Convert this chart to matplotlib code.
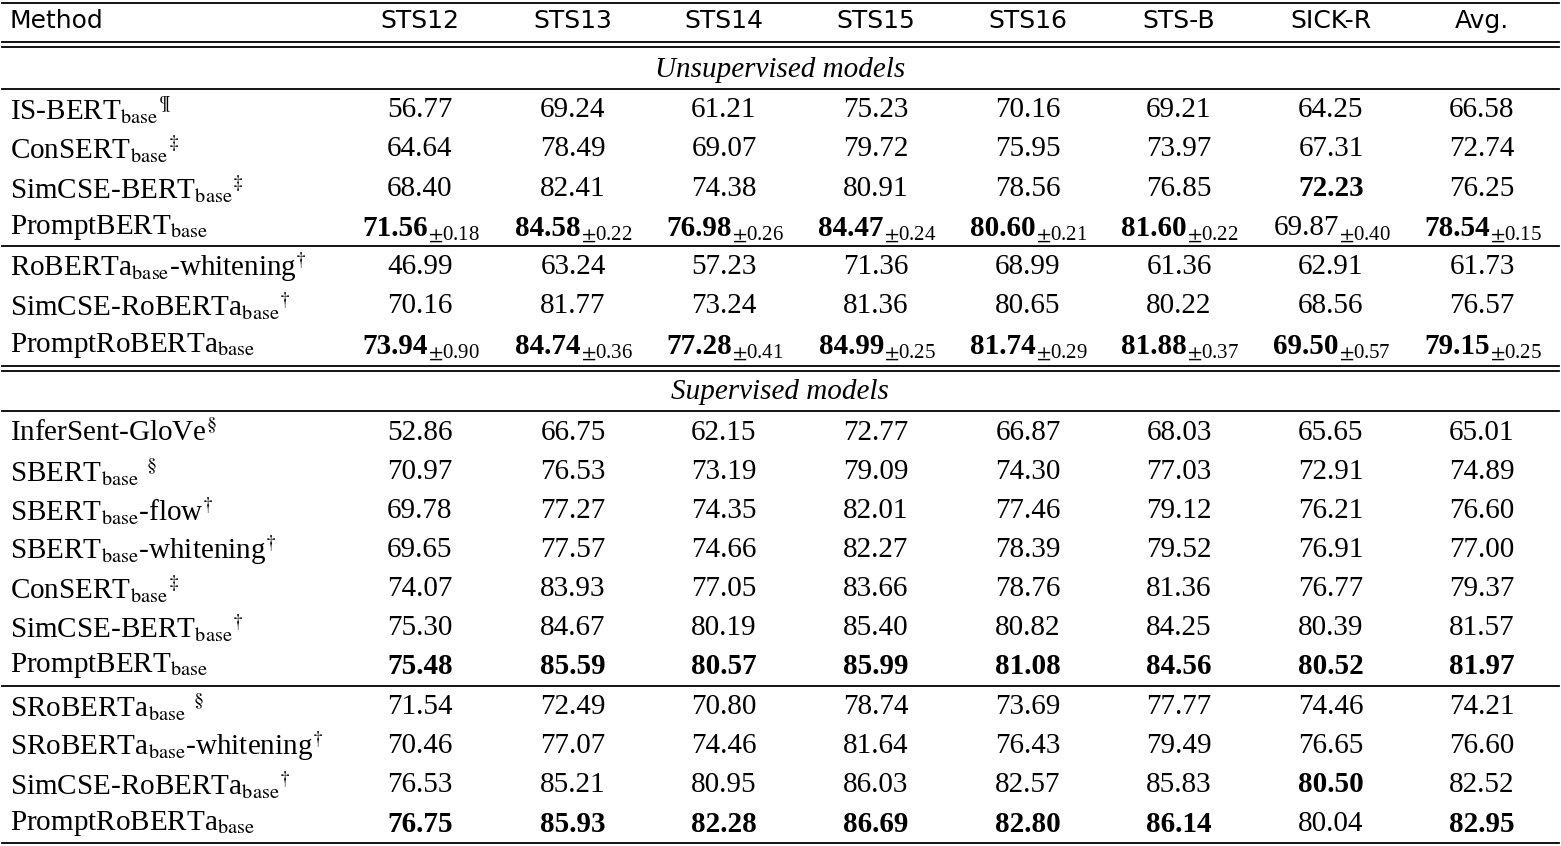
import matplotlib.pyplot as plt

plt.rcParams['font.family'] = ['Liberation Serif', 'DejaVu Serif']
plt.rcParams['mathtext.fontset'] = 'stix'

columns = ["STS12", "STS13", "STS14", "STS15", "STS16", "STS-B", "SICK-R", "Avg."]

unsup_names = [r"IS-BERT$_{\mathrm{base}}$$^{¶}$", r"ConSERT$_{\mathrm{base}}$$^{‡}$",
               r"SimCSE-BERT$_{\mathrm{base}}$$^{‡}$", r"PromptBERT$_{\mathrm{base}}$",
               r"RoBERTa$_{\mathrm{base}}$-whitening$^{†}$", r"SimCSE-RoBERTa$_{\mathrm{base}}$$^{†}$",
               r"PromptRoBERTa$_{\mathrm{base}}$"]
unsup_vals = [
    [56.77, 69.24, 61.21, 75.23, 70.16, 69.21, 64.25, 66.58],
    [64.64, 78.49, 69.07, 79.72, 75.95, 73.97, 67.31, 72.74],
    [68.40, 82.41, 74.38, 80.91, 78.56, 76.85, 72.23, 76.25],
    [71.56, 84.58, 76.98, 84.47, 80.60, 81.60, 69.87, 78.54],
    [46.99, 63.24, 57.23, 71.36, 68.99, 61.36, 62.91, 61.73],
    [70.16, 81.77, 73.24, 81.36, 80.65, 80.22, 68.56, 76.57],
    [73.94, 84.74, 77.28, 84.99, 81.74, 81.88, 69.50, 79.15],
]
unsup_std = {3: [0.18, 0.22, 0.26, 0.24, 0.21, 0.22, 0.40, 0.15],
             6: [0.90, 0.36, 0.41, 0.25, 0.29, 0.37, 0.57, 0.25]}
unsup_bold = {(2, 6)} | {(3, j) for j in range(8) if j != 6} | {(6, j) for j in range(8)}

sup_names = [r"InferSent-GloVe$^{§}$", r"SBERT$_{\mathrm{base}}$ $^{§}$",
             r"SBERT$_{\mathrm{base}}$-flow$^{†}$", r"SBERT$_{\mathrm{base}}$-whitening$^{†}$",
             r"ConSERT$_{\mathrm{base}}$$^{‡}$", r"SimCSE-BERT$_{\mathrm{base}}$$^{†}$",
             r"PromptBERT$_{\mathrm{base}}$", r"SRoBERTa$_{\mathrm{base}}$ $^{§}$",
             r"SRoBERTa$_{\mathrm{base}}$-whitening$^{†}$", r"SimCSE-RoBERTa$_{\mathrm{base}}$$^{†}$",
             r"PromptRoBERTa$_{\mathrm{base}}$"]
sup_vals = [
    [52.86, 66.75, 62.15, 72.77, 66.87, 68.03, 65.65, 65.01],
    [70.97, 76.53, 73.19, 79.09, 74.30, 77.03, 72.91, 74.89],
    [69.78, 77.27, 74.35, 82.01, 77.46, 79.12, 76.21, 76.60],
    [69.65, 77.57, 74.66, 82.27, 78.39, 79.52, 76.91, 77.00],
    [74.07, 83.93, 77.05, 83.66, 78.76, 81.36, 76.77, 79.37],
    [75.30, 84.67, 80.19, 85.40, 80.82, 84.25, 80.39, 81.57],
    [75.48, 85.59, 80.57, 85.99, 81.08, 84.56, 80.52, 81.97],
    [71.54, 72.49, 70.80, 78.74, 73.69, 77.77, 74.46, 74.21],
    [70.46, 77.07, 74.46, 81.64, 76.43, 79.49, 76.65, 76.60],
    [76.53, 85.21, 80.95, 86.03, 82.57, 85.83, 80.50, 82.52],
    [76.75, 85.93, 82.28, 86.69, 82.80, 86.14, 80.04, 82.95],
]
sup_bold = {(6, j) for j in range(8)} | {(9, 6)} | {(10, j) for j in range(8) if j != 6}

col_x = [420, 573, 724, 876, 1028, 1179, 1331, 1482]
fs = 21

fig = plt.figure(figsize=(15.61, 8.46), dpi=100)
ax = fig.add_axes([0, 0, 1, 1])
ax.set_xlim(0, 1561)
ax.set_ylim(846, 0)
ax.axis('off')

def hline(y, lw=1.3):
    ax.plot([2, 1559], [y, y], color='black', lw=lw)

def cell(x, y, v, bold, std=None):
    if std is not None:
        # main number right-aligned, std subscript in smaller text after it
        ax.text(x + 8, y, "%.2f" % v, ha='right', va='center', fontsize=fs,
                fontweight='bold' if bold else 'normal')
        ax.text(x + 8, y + 7, r"$\pm$%.2f" % std, ha='left', va='center', fontsize=15)
    else:
        ax.text(x, y, "%.2f" % v, ha='center', va='center', fontsize=fs,
                fontweight='bold' if bold else 'normal')

def rows(names, vals, bold, ys, stds={}):
    for i, (n, row) in enumerate(zip(names, vals)):
        ax.text(10, ys[i], n, ha='left', va='center', fontsize=fs)
        for j, v in enumerate(row):
            sd = stds[i][j] if i in stds else None
            cell(col_x[j], ys[i], v, (i, j) in bold, sd)

# header
hline(3)
ax.text(10, 21, "Method", ha='left', va='center', fontsize=18, family='DejaVu Sans')
for x, c in zip(col_x, columns):
    ax.text(x, 21, c, ha='center', va='center', fontsize=18, family='DejaVu Sans')
hline(42); hline(47)
ax.text(780, 70, "Unsupervised models", ha='center', va='center', fontsize=fs, style='italic')
hline(89)
rows(unsup_names, unsup_vals, unsup_bold, [110, 149, 189, 228, 267, 306, 346], unsup_std)
hline(246)
hline(366); hline(371)
ax.text(780, 392, "Supervised models", ha='center', va='center', fontsize=fs, style='italic')
hline(411)
rows(sup_names, sup_vals, sup_bold, [433, 472, 511, 550, 589, 628, 666, 707, 746, 785, 824])
hline(686)
hline(843)

fig.savefig("out.png", dpi=100)
